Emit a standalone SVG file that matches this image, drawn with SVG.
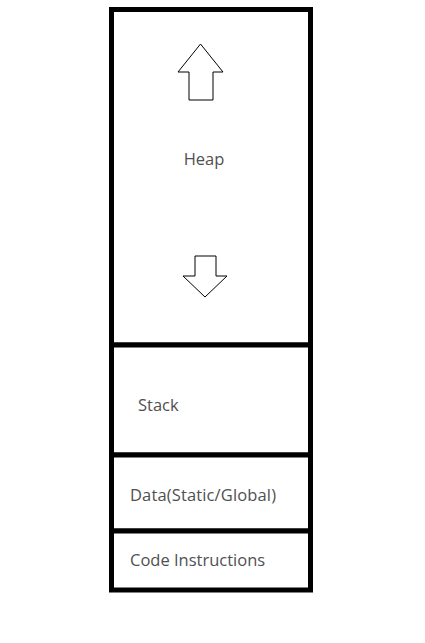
<svg xmlns="http://www.w3.org/2000/svg" width="425" height="643" viewBox="0 0 425 643">
<style>
.box{fill:#fff;stroke:#000;stroke-width:5}
.arr{fill:#fff;stroke:#000;stroke-width:1}
.t{font-family:"Open Sans","Liberation Sans",sans-serif;font-size:16.5px;fill:#505050}
</style>
<rect width="425" height="643" fill="#fff"/>
<g id="heap">
<rect class="box" x="111.5" y="9.5" width="199" height="335.5"/>
<text class="t" x="204" y="165" text-anchor="middle">Heap</text>
<polygon class="arr" points="200.5,44 223,72 213,72 213,100 189,100 189,72 178,72"/>
<polygon class="arr" points="195,256 216,256 216,276 227,276 205,297 183,276 195,276"/>
</g>
<g id="stack">
<rect class="box" x="111.5" y="345" width="199" height="110"/>
<text class="t" x="138" y="411">Stack</text>
</g>
<g id="data">
<rect class="box" x="111.5" y="455" width="199" height="76"/>
<text class="t" x="130" y="501" textLength="146">Data(Static/Global)</text>
</g>
<g id="code">
<rect class="box" x="111.5" y="531" width="199" height="59"/>
<text class="t" x="130" y="566">Code Instructions</text>
</g>
<g id="connectors"></g>
</svg>
